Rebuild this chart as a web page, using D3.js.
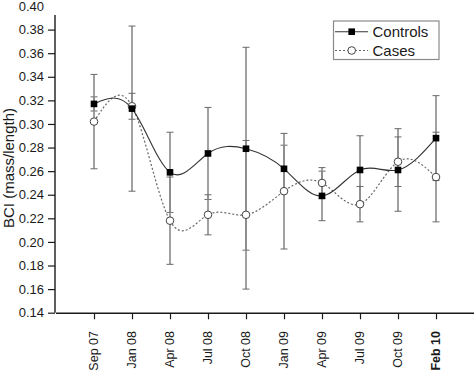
<!DOCTYPE html>
<html>
<head>
<meta charset="utf-8">
<script src="https://cdn.jsdelivr.net/npm/d3@7"></script>
<style>
  body { margin: 0; background: #fff; }
  text { font-family: "Liberation Sans", Arial, sans-serif; fill: #1a1a1a; }
</style>
</head>
<body>
<div id="chart"></div>
<script>
// sampling dates (categories)
var months = ["Sep 07", "Jan 08", "Apr 08", "Jul 08", "Oct 08", "Jan 09", "Apr 09", "Jul 09", "Oct 09", "Feb 10"];
// BCI means and error bar half-widths
var controls    = [0.317, 0.313, 0.259, 0.275, 0.279, 0.262, 0.239, 0.261, 0.261, 0.288];
var controlsErr = [0.006, 0.070, 0.034, 0.039, 0.086, 0.020, 0.021, 0.029, 0.035, 0.036];
var cases       = [0.302, 0.315, 0.218, 0.223, 0.223, 0.243, 0.250, 0.232, 0.268, 0.255];
var casesErr    = [0.040, 0.011, 0.037, 0.017, 0.063, 0.049, 0.013, 0.015, 0.021, 0.038];
var yTicks = [0.14, 0.16, 0.18, 0.20, 0.22, 0.24, 0.26, 0.28, 0.30, 0.32, 0.34, 0.36, 0.38, 0.40];

var width = 474, height = 370;

var svg = d3.select("#chart").append("svg")
	.attr("width", width)
	.attr("height", height);

// x positions: categories at 1..10 on a 0..11 axis
var x = d3.scaleLinear().domain([0, 11]).range([56, 474]);
var y = d3.scaleLinear().domain([0.14, 0.40]).range([312.7, 6]);

function xi(d, i) { return x(i + 1); }

// error bars
function errorBars(vals, errs, cls) {
	var g = svg.append("g").attr("class", cls);
	var data = vals.map(function (v, i) { return { i: i, lo: v - errs[i], hi: v + errs[i] }; });
	g.selectAll("line.bar").data(data).enter().append("line")
		.attr("x1", function (d) { return x(d.i + 1); })
		.attr("x2", function (d) { return x(d.i + 1); })
		.attr("y1", function (d) { return y(d.lo); })
		.attr("y2", function (d) { return y(d.hi); })
		.attr("stroke", "#8a8a8a").attr("stroke-width", 1.6);
	["lo", "hi"].forEach(function (k) {
		g.selectAll("line.cap" + k).data(data).enter().append("line")
			.attr("x1", function (d) { return x(d.i + 1) - 3.5; })
			.attr("x2", function (d) { return x(d.i + 1) + 3.5; })
			.attr("y1", function (d) { return y(d[k]); })
			.attr("y2", function (d) { return y(d[k]); })
			.attr("stroke", "#6a6a6a").attr("stroke-width", 1);
	});
}
errorBars(controls, controlsErr, "err-controls");
errorBars(cases, casesErr, "err-cases");

// smooth lines
var line = d3.line()
	.x(xi)
	.y(function (d) { return y(d); })
	.curve(d3.curveNatural);

svg.append("path")
	.datum(cases)
	.attr("d", line)
	.attr("fill", "none")
	.attr("stroke", "#666")
	.attr("stroke-width", 1.2)
	.attr("stroke-dasharray", "2,2");

svg.append("path")
	.datum(controls)
	.attr("d", line)
	.attr("fill", "none")
	.attr("stroke", "#333")
	.attr("stroke-width", 1.1);

// markers
svg.append("g").selectAll("circle").data(cases).enter().append("circle")
	.attr("cx", xi)
	.attr("cy", function (d) { return y(d); })
	.attr("r", 3.8)
	.attr("fill", "#fff")
	.attr("stroke", "#444")
	.attr("stroke-width", 1);

svg.append("g").selectAll("rect").data(controls).enter().append("rect")
	.attr("x", function (d, i) { return xi(d, i) - 3.3; })
	.attr("y", function (d) { return y(d) - 3.3; })
	.attr("width", 6.6)
	.attr("height", 6.6)
	.attr("fill", "#000");

// y axis
var yMinor = d3.range(14, 40).map(function (v) { return v / 100; });
var yAxisG = svg.append("g").attr("transform", "translate(55,0)");
yAxisG.call(d3.axisLeft(y).tickValues(yMinor).tickSize(4).tickFormat(""));
yAxisG.call(d3.axisLeft(y).tickValues(yTicks).tickSize(7).tickPadding(4).tickFormat(d3.format(".2f")));
yAxisG.selectAll(".domain").remove();
yAxisG.selectAll(".tick").filter(function (d) { return d > 0.395; }).select("line").remove();
yAxisG.append("path").attr("d", "M0,15V312.7").attr("stroke", "#1a1a1a").attr("stroke-width", 1.4);
yAxisG.selectAll("line").attr("stroke", "#1a1a1a").attr("stroke-width", 1.2);
yAxisG.selectAll("text").attr("font-size", 13).style("font-family", "'Liberation Sans', Arial, sans-serif").attr("fill", "#1a1a1a");

// x axis
var xMinor = d3.range(0, 11.5, 0.5);
var xAxisG = svg.append("g").attr("transform", "translate(0,313.3)");
xAxisG.call(d3.axisBottom(x).tickValues(xMinor).tickSize(3.5).tickFormat(""));
xAxisG.call(d3.axisBottom(x).tickValues(d3.range(1, 11)).tickSize(6).tickFormat(""));
xAxisG.select(".domain").attr("d", "M56,0H474");
xAxisG.selectAll(".domain").attr("stroke", "#1a1a1a").attr("stroke-width", 1.4);
xAxisG.selectAll("line").attr("stroke", "#1a1a1a").attr("stroke-width", 1.2);

svg.append("g").selectAll("text").data(months).enter().append("text")
	.attr("transform", function (d, i) { return "translate(" + x(i + 1) + ",331) rotate(-90)"; })
	.attr("text-anchor", "end")
	.attr("dy", "0.35em")
	.attr("font-size", 12.5)
	.attr("font-weight", function (d) { return d === "Feb 10" ? "bold" : "normal"; })
	.text(function (d) { return d; });

// y title
svg.append("text")
	.attr("transform", "translate(13.5,168) rotate(-90)")
	.attr("text-anchor", "middle")
	.attr("font-size", 15)
	.text("BCI (mass/length)");

// legend
var legend = svg.append("g");
legend.append("rect")
	.attr("x", 333.5).attr("y", 21)
	.attr("width", 105.5).attr("height", 38.5)
	.attr("fill", "#fff")
	.attr("stroke", "#8a8a8a")
	.attr("stroke-width", 1.2);
legend.append("line")
	.attr("x1", 335).attr("x2", 368).attr("y1", 31.7).attr("y2", 31.7)
	.attr("stroke", "#333").attr("stroke-width", 1.1);
legend.append("rect")
	.attr("x", 351.7 - 3.3).attr("y", 31.7 - 3.3)
	.attr("width", 6.6).attr("height", 6.6).attr("fill", "#000");
legend.append("line")
	.attr("x1", 335).attr("x2", 368).attr("y1", 50.5).attr("y2", 50.5)
	.attr("stroke", "#666").attr("stroke-width", 1.2).attr("stroke-dasharray", "2,2");
legend.append("circle")
	.attr("cx", 351.7).attr("cy", 50.5).attr("r", 3.8)
	.attr("fill", "#fff").attr("stroke", "#444");
legend.append("text").attr("x", 372.5).attr("y", 31.7).attr("dy", "0.35em")
	.attr("font-size", 15).text("Controls");
legend.append("text").attr("x", 372.5).attr("y", 50.5).attr("dy", "0.35em")
	.attr("font-size", 15).text("Cases");
</script>
</body>
</html>
